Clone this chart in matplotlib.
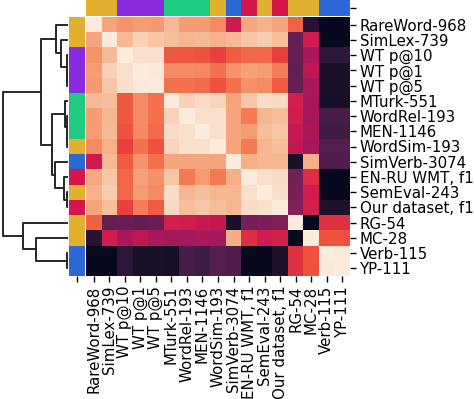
import numpy as np
import pandas as pd
import matplotlib
matplotlib.use("Agg")
import matplotlib.pyplot as plt
from matplotlib.colors import ListedColormap
import seaborn as sns

# datasets, in the order of the clustered leaves
names = ["RareWord-968", "SimLex-739", "WT p@10", "WT p@1", "WT p@5",
         "MTurk-551", "WordRel-193", "MEN-1146", "WordSim-193", "SimVerb-3074",
         "EN-RU WMT, f1", "SemEval-243", "Our dataset, f1", "RG-54", "MC-28",
         "Verb-115", "YP-111"]

# group of each dataset (colour bar on the side / top)
groups = [0, 0, 1, 1, 1, 2, 2, 2, 0, 3, 4, 0, 4, 0, 0, 3, 3]
group_colors = ["#E1B02E", "#8A2BE2", "#1FCB80", "#2C68D6", "#D5164A"]

# correlation matrix
corr = [
    [1.00, 0.82, 0.78, 0.80, 0.79, 0.87, 0.80, 0.80, 0.76, 0.50, 0.83, 0.85, 0.82, 0.67, 0.10, 0.02, 0.02],
    [0.82, 1.00, 0.87, 0.93, 0.90, 0.88, 0.86, 0.87, 0.85, 0.87, 0.90, 0.92, 0.88, 0.26, 0.51, 0.02, 0.02],
    [0.78, 0.87, 1.00, 0.97, 0.97, 0.65, 0.65, 0.64, 0.60, 0.66, 0.68, 0.68, 0.60, 0.27, 0.42, 0.12, 0.12],
    [0.80, 0.93, 0.97, 1.00, 0.99, 0.76, 0.76, 0.75, 0.70, 0.78, 0.81, 0.80, 0.73, 0.25, 0.47, 0.07, 0.07],
    [0.79, 0.90, 0.97, 0.99, 1.00, 0.70, 0.70, 0.69, 0.64, 0.70, 0.77, 0.76, 0.66, 0.27, 0.42, 0.07, 0.07],
    [0.87, 0.88, 0.65, 0.76, 0.70, 1.00, 0.93, 0.96, 0.94, 0.82, 0.90, 0.96, 0.95, 0.52, 0.41, 0.06, 0.06],
    [0.80, 0.86, 0.65, 0.76, 0.70, 0.93, 1.00, 0.97, 0.97, 0.82, 0.72, 0.86, 0.88, 0.51, 0.41, 0.19, 0.19],
    [0.80, 0.87, 0.64, 0.75, 0.69, 0.96, 0.97, 1.00, 0.97, 0.82, 0.80, 0.88, 0.90, 0.49, 0.42, 0.17, 0.17],
    [0.76, 0.85, 0.60, 0.70, 0.64, 0.94, 0.97, 0.97, 1.00, 0.82, 0.72, 0.86, 0.88, 0.48, 0.41, 0.22, 0.22],
    [0.50, 0.87, 0.66, 0.78, 0.70, 0.82, 0.82, 0.82, 0.82, 1.00, 0.84, 0.86, 0.86, 0.07, 0.84, 0.21, 0.21],
    [0.83, 0.90, 0.68, 0.81, 0.77, 0.90, 0.72, 0.80, 0.72, 0.84, 1.00, 0.97, 0.96, 0.30, 0.56, 0.02, 0.02],
    [0.85, 0.92, 0.68, 0.80, 0.76, 0.96, 0.86, 0.88, 0.86, 0.86, 0.97, 1.00, 0.97, 0.31, 0.51, 0.02, 0.02],
    [0.82, 0.88, 0.60, 0.73, 0.66, 0.95, 0.88, 0.90, 0.88, 0.86, 0.96, 0.97, 1.00, 0.33, 0.52, 0.08, 0.08],
    [0.67, 0.26, 0.27, 0.25, 0.27, 0.52, 0.51, 0.49, 0.48, 0.07, 0.30, 0.31, 0.33, 1.00, 0.02, 0.57, 0.57],
    [0.10, 0.51, 0.42, 0.47, 0.42, 0.41, 0.41, 0.42, 0.41, 0.84, 0.56, 0.51, 0.52, 0.02, 1.00, 0.64, 0.64],
    [0.02, 0.02, 0.12, 0.07, 0.07, 0.06, 0.19, 0.17, 0.22, 0.21, 0.02, 0.02, 0.08, 0.57, 0.64, 1.00, 0.99],
    [0.02, 0.02, 0.12, 0.07, 0.07, 0.06, 0.19, 0.17, 0.22, 0.21, 0.02, 0.02, 0.08, 0.57, 0.64, 0.99, 1.00],
]

# row linkage: (child a, child b, distance); new clusters get ids 17, 18, ...
linkage = [
    (3, 4, 0.008), (2, 17, 0.015), (1, 18, 0.108), (0, 19, 0.185),
    (7, 8, 0.008), (6, 21, 0.015), (5, 22, 0.046),
    (11, 12, 0.015), (10, 24, 0.062), (9, 25, 0.200),
    (23, 26, 0.247), (20, 27, 0.417),
    (15, 16, 0.008), (14, 29, 0.494), (13, 30, 0.695),
    (28, 31, 1.000),
]

df = pd.DataFrame(corr, index=names, columns=names)
n = len(names)

W, H = 474, 399
fig = plt.figure(figsize=(W / 100, H / 100), dpi=100)
top, bottom = 17, 276
ax_den = fig.add_axes([0 / W, 1 - bottom / H, 68 / W, (bottom - top) / H])
ax_rc = fig.add_axes([69 / W, 1 - bottom / H, 16 / W, (bottom - top) / H])
ax_hm = fig.add_axes([86 / W, 1 - bottom / H, 264 / W, (bottom - top) / H])
ax_cc = fig.add_axes([86 / W, 1 - 15.5 / H, 264 / W, 15.5 / H])

# heatmap
sns.heatmap(df, ax=ax_hm, cmap="rocket", vmin=0, vmax=1, cbar=False,
            xticklabels=True, yticklabels=True)
ax_hm.yaxis.tick_right()
ax_hm.set_yticklabels(names, rotation=0, fontsize=10.8)
ax_hm.set_xticklabels(names, rotation=90, fontsize=10.8)
ax_hm.tick_params(length=4, width=1, pad=3)
ax_hm.set_xlabel("")
ax_hm.set_ylabel("")

# group colour bars
gcmap = ListedColormap(group_colors)
g = np.array(groups)
ax_rc.pcolormesh(np.arange(2), np.arange(n + 1), g[:, None], cmap=gcmap, vmin=-0.5, vmax=4.5)
ax_rc.set_ylim(n, 0)
ax_rc.set_xlim(0, 1)
ax_rc.set_xticks([0.5])
ax_rc.set_xticklabels([""])
ax_rc.set_yticks([])
ax_rc.tick_params(length=4, width=1)
for s in ax_rc.spines.values():
    s.set_visible(False)

ax_cc.pcolormesh(np.arange(n + 1), np.arange(2), g[None, :], cmap=gcmap, vmin=-0.5, vmax=4.5)
ax_cc.set_xlim(0, n)
ax_cc.set_ylim(1, 0)
ax_cc.set_xticks([])
ax_cc.yaxis.tick_right()
ax_cc.set_yticks([0.5])
ax_cc.set_yticklabels([""])
ax_cc.tick_params(length=4, width=1)
for s in ax_cc.spines.values():
    s.set_visible(False)

# dendrogram
pos = {i: i + 0.5 for i in range(n)}
hgt = {i: 0.0 for i in range(n)}
for k, (a, b, d) in enumerate(linkage):
    ya, yb = pos[a], pos[b]
    ax_den.plot([hgt[a], d, d, hgt[b]], [ya, ya, yb, yb], color="0.15", lw=1.4)
    pos[n + k] = (ya + yb) / 2
    hgt[n + k] = d
ax_den.set_ylim(n, 0)
ax_den.set_xlim(1.05, 0)
ax_den.axis("off")

plt.savefig("out.png", dpi=100)
